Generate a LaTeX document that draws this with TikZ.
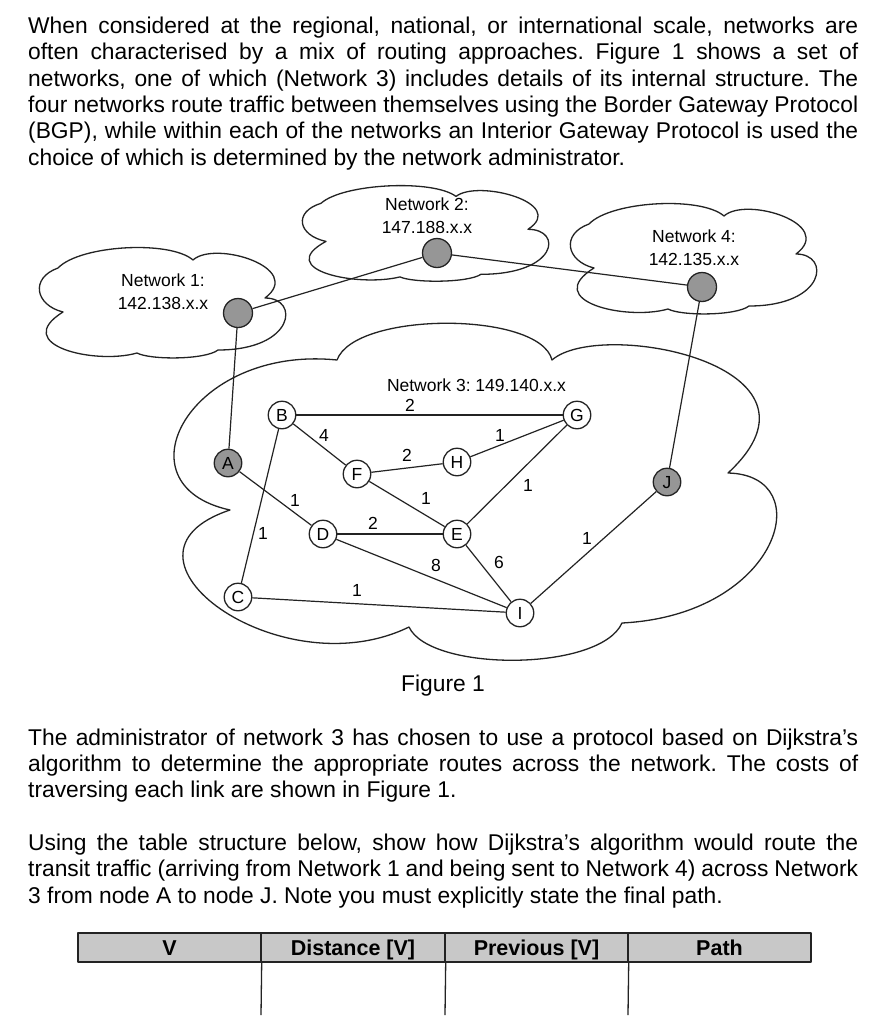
\documentclass[tikz,border=0pt]{standalone}
\usepackage{tikz}
\usepackage{fontspec}
\setmainfont{Liberation Sans}
\frenchspacing
\definecolor{gwgray}{RGB}{150,150,150}
\definecolor{headgray}{RGB}{200,200,200}
\definecolor{ink}{RGB}{35,35,35}
\newcommand\bodyfont{\fontsize{22.8bp}{26.4bp}\selectfont}
\newcommand\figfont{\fontsize{17.5bp}{23bp}\selectfont}
\newcommand\nodefont{\fontsize{17.5bp}{20bp}\selectfont}
\newcommand\headfont{\fontsize{21.5bp}{24bp}\selectfont\bfseries}
\tikzset{
  txt/.style={anchor=base west, inner sep=0pt, font=\bodyfont},
  cloudline/.style={draw=ink, line width=1.3bp},
  netlbl/.style={inner sep=0pt, align=center, font=\figfont},
  rt/.style={circle, draw=ink, line width=1.3bp, fill=white, minimum size=27.5bp, inner sep=0pt, font=\nodefont, text height=12.5bp, text depth=0pt},
  gw/.style={circle, draw=ink, line width=1.3bp, fill=gwgray, minimum size=29bp, inner sep=0pt},
  link/.style={draw=ink, line width=1.2bp},
  lbl/.style={inner sep=0pt, font=\nodefont, text height=12.5bp, text depth=0pt},
  hcell/.style={draw=ink, line width=1.4bp, fill=headgray, minimum height=29bp, inner sep=0pt, font=\headfont, text height=15.4bp, text depth=0pt},
  tabline/.style={draw=ink, line width=1.3bp}
}
\begin{document}
\begin{tikzpicture}[x=1bp, y=-1bp, line join=round]
\fill[white] (0,0) rectangle (879,1024);
\useasboundingbox (0,0) rectangle (879,1024);

% ---------- top paragraph ----------
\node[txt] (p1a) at (28,33.2) {\makebox[830bp][s]{When considered at the regional, national, or international scale, networks are}};
\node[txt] (p1b) at (28,59.6) {\makebox[830bp][s]{often characterised by a mix of routing approaches. Figure 1 shows a set of}};
\node[txt] (p1c) at (28,86.0) {\makebox[830bp][s]{networks, one of which (Network 3) includes details of its internal structure. The}};
\node[txt] (p1d) at (28,112.4) {\makebox[830bp][s]{four networks route traffic between themselves using the Border Gateway Protocol}};
\node[txt] (p1e) at (28,138.8) {\makebox[830bp][s]{(BGP), while within each of the networks an Interior Gateway Protocol is used the}};
\node[txt] (p1f) at (28,165.2) {choice of which is determined by the network administrator.};

% ---------- clouds ----------
% Network 1
\draw[cloudline] (63,312) .. controls (35,305) and (30,278) .. (58,268)
  .. controls (80,245) and (170,240) .. (193,260)
  .. controls (215,240) and (305,268) .. (265,298)
  .. controls (300,298) and (295,350) .. (218,350)
  .. controls (205,360) and (150,360) .. (137,353)
  .. controls (95,365) and (10,345) .. cycle;
% Network 2
\draw[cloudline] (326,241.4) .. controls (298,235.4) and (293,212) .. (321,203.3)
  .. controls (343,183.4) and (433,179.1) .. (456,196.4)
  .. controls (478,179.1) and (568,203.3) .. (528,229.3)
  .. controls (563,229.3) and (558,274.3) .. (481,274.3)
  .. controls (468,283) and (413,283) .. (400,276.9)
  .. controls (358,287.3) and (273,270) .. cycle;
% Network 4
\draw[cloudline] (594,268) .. controls (566,261) and (561,234) .. (589,224)
  .. controls (611,201) and (701,196) .. (724,216)
  .. controls (746,196) and (836,224) .. (796,254)
  .. controls (831,254) and (826,306) .. (749,306)
  .. controls (736,316) and (681,316) .. (668,309)
  .. controls (626,321) and (541,301) .. cycle;
% Network 3
\draw[cloudline] (337,360)
  .. controls (355,311) and (540,311) .. (552,360)
  .. controls (600,318) and (845,365) .. (728,473)
  .. controls (820,475) and (780,615) .. (622,623)
  .. controls (600,672) and (430,672) .. (409,627)
  .. controls (280,690) and (95,555) .. (230,510)
  .. controls (115,485) and (190,345) .. cycle;

% ---------- cloud labels ----------
\node[netlbl] (lab1) at (163,291.5) {Network 1:\\142.138.x.x};
\node[netlbl] (lab2) at (427,215.5) {Network 2:\\147.188.x.x};
\node[netlbl] (lab4) at (694,248) {Network 4:\\142.135.x.x};
\node[inner sep=0pt, font=\figfont, text height=12.5bp, text depth=0pt] (lab3) at (476.5,385) {Network 3: 149.140.x.x};

% ---------- nodes ----------
\node[gw] (N1) at (238,313) {};
\node[gw] (N2) at (437,253) {};
\node[gw] (N4) at (702,287) {};
\node[rt, fill=gwgray] (A) at (228,463) {A};
\node[rt] (B) at (282,415) {B};
\node[rt] (C) at (238,597) {C};
\node[rt] (D) at (323,534) {D};
\node[rt] (E) at (457,534) {E};
\node[rt] (F) at (357,474) {F};
\node[rt] (G) at (577,415) {G};
\node[rt] (H) at (457,462) {H};
\node[rt] (I) at (520,613) {I};
\node[rt, fill=gwgray] (J) at (667,482) {J};

% ---------- links ----------
\draw[link] (N1) -- (N2);
\draw[link] (N2) -- (N4);
\draw[link] (N1) -- (A);
\draw[link] (N4) -- (J);
\draw[link] (A) -- (D);
\draw[link] (B) -- (G);
\draw[link] (B) -- (F);
\draw[link] (B) -- (C);
\draw[link] (F) -- (H);
\draw[link] (F) -- (E);
\draw[link] (H) -- (G);
\draw[link] (G) -- (E);
\draw[link] (D) -- (E);
\draw[link] (D) -- (I);
\draw[link] (E) -- (I);
\draw[link] (C) -- (I);
\draw[link] (I) -- (J);

% ---------- link costs ----------
\node[lbl] (wBG) at (410,405) {2};
\node[lbl] (wBF) at (324,435) {4};
\node[lbl] (wFH) at (407,455) {2};
\node[lbl] (wHG) at (500,435) {1};
\node[lbl] (wGE) at (528,485) {1};
\node[lbl] (wFE) at (426,498) {1};
\node[lbl] (wAD) at (295,500) {1};
\node[lbl] (wBC) at (263,533) {1};
\node[lbl] (wDE) at (373,523) {2};
\node[lbl] (wDI) at (436,565) {8};
\node[lbl] (wEI) at (499,562) {6};
\node[lbl] (wCI) at (357,590) {1};
\node[lbl] (wIJ) at (587,538) {1};

% ---------- caption and text ----------
\node[anchor=base, inner sep=0pt, font=\bodyfont] (fig) at (443,691.2) {Figure 1};

\node[txt] (p2a) at (28,745) {\makebox[830bp][s]{The administrator of network 3 has chosen to use a protocol based on Dijkstra’s}};
\node[txt] (p2b) at (28,771.4) {\makebox[830bp][s]{algorithm to determine the appropriate routes across the network. The costs of}};
\node[txt] (p2c) at (28,797.8) {traversing each link are shown in Figure 1.};

\node[txt] (p3a) at (28,850.2) {\makebox[830bp][s]{Using the table structure below, show how Dijkstra’s algorithm would route the}};
\node[txt] (p3b) at (28,876.6) {\makebox[830bp][s]{transit traffic (arriving from Network 1 and being sent to Network 4) across Network}};
\node[txt] (p3c) at (28,903.0) {3 from node A to node J. Note you must explicitly state the final path.};

% ---------- table ----------
\node[hcell, minimum width=183bp] (hV) at (169.5,947.5) {V};
\node[hcell, minimum width=184bp] (hDist) at (353,947.5) {Distance [V]};
\node[hcell, minimum width=183bp] (hPrev) at (536.5,947.5) {Previous [V]};
\node[hcell, minimum width=183bp] (hPath) at (719.5,947.5) {Path};
\coordinate (b1) at (261,1015);
\coordinate (b2) at (445,1015);
\coordinate (b3) at (628,1015);
\draw[tabline] (hV.south east) -- (b1);
\draw[tabline] (hDist.south east) -- (b2);
\draw[tabline] (hPrev.south east) -- (b3);
\end{tikzpicture}
\end{document}
